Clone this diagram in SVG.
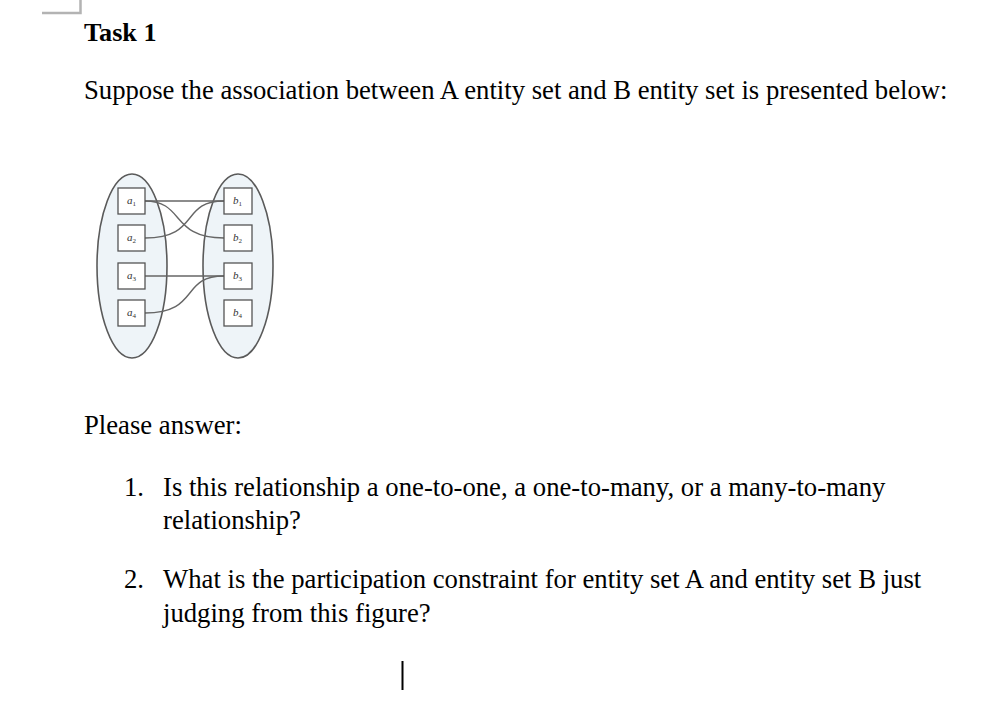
<svg xmlns="http://www.w3.org/2000/svg" width="1002" height="704" viewBox="0 0 1002 704">
<style>
text{font-family:"Liberation Serif","Times New Roman",serif;fill:#000}
.t{font-size:26.7px}
.h{font-size:26.2px;font-weight:bold}
.ell{fill:#eef4f8;stroke:#5a5a5a;stroke-width:1.6}
.box{fill:#fff;stroke:#555;stroke-width:1.3}
.lbl{font-size:11px;font-style:italic;fill:#333}
.sub{font-size:7px;font-style:normal}
.con{fill:none;stroke:#666;stroke-width:1.4}
</style>
<rect width="1002" height="704" fill="#fff"/>
<path d="M42,13 H80.5 V0" fill="none" stroke="#b3b3b3" stroke-width="2.5"/>
<text class="h" x="84" y="41">Task 1</text>
<text class="t" x="84" y="99">Suppose the association between A entity set and B entity set is presented below:</text>
<g id="setA"><ellipse class="ell" cx="132" cy="266" rx="35" ry="92"/></g>
<g id="setB"><ellipse class="ell" cx="238" cy="266" rx="35" ry="92"/></g>
<g id="connectors">
<path class="con" d="M145,201 H224"/>
<path class="con" d="M145,201 C185,201 170,238 224,238"/>
<path class="con" d="M145,238 C200,238 180,201 224,201"/>
<path class="con" d="M145,276 H224"/>
<path class="con" d="M145,313 C200,313 180,276 224,276"/>
</g>
<g id="a1"><rect class="box" x="118" y="188" width="27" height="26"/><text class="lbl" x="127" y="204">a<tspan class="sub" dy="2">1</tspan></text></g>
<g id="a2"><rect class="box" x="118" y="225" width="27" height="26"/><text class="lbl" x="127" y="241">a<tspan class="sub" dy="2">2</tspan></text></g>
<g id="a3"><rect class="box" x="118" y="263" width="27" height="26"/><text class="lbl" x="127" y="279">a<tspan class="sub" dy="2">3</tspan></text></g>
<g id="a4"><rect class="box" x="118" y="300" width="27" height="26"/><text class="lbl" x="127" y="316">a<tspan class="sub" dy="2">4</tspan></text></g>
<g id="b1"><rect class="box" x="224" y="188" width="28" height="26"/><text class="lbl" x="233" y="204">b<tspan class="sub" dy="2">1</tspan></text></g>
<g id="b2"><rect class="box" x="224" y="225" width="28" height="26"/><text class="lbl" x="233" y="241">b<tspan class="sub" dy="2">2</tspan></text></g>
<g id="b3"><rect class="box" x="224" y="263" width="28" height="26"/><text class="lbl" x="233" y="279">b<tspan class="sub" dy="2">3</tspan></text></g>
<g id="b4"><rect class="box" x="224" y="300" width="28" height="26"/><text class="lbl" x="233" y="316">b<tspan class="sub" dy="2">4</tspan></text></g>
<text class="t" x="84" y="434">Please answer:</text>
<text class="t" x="124" y="496">1.</text>
<text class="t" x="163" y="496">Is this relationship a one-to-one, a one-to-many, or a many-to-many</text>
<text class="t" x="163" y="529">relationship?</text>
<text class="t" x="124" y="588">2.</text>
<text class="t" x="163" y="588">What is the participation constraint for entity set A and entity set B just</text>
<text class="t" x="163" y="622">judging from this figure?</text>
<rect x="401.5" y="661" width="2" height="29" fill="#000"/>
</svg>
